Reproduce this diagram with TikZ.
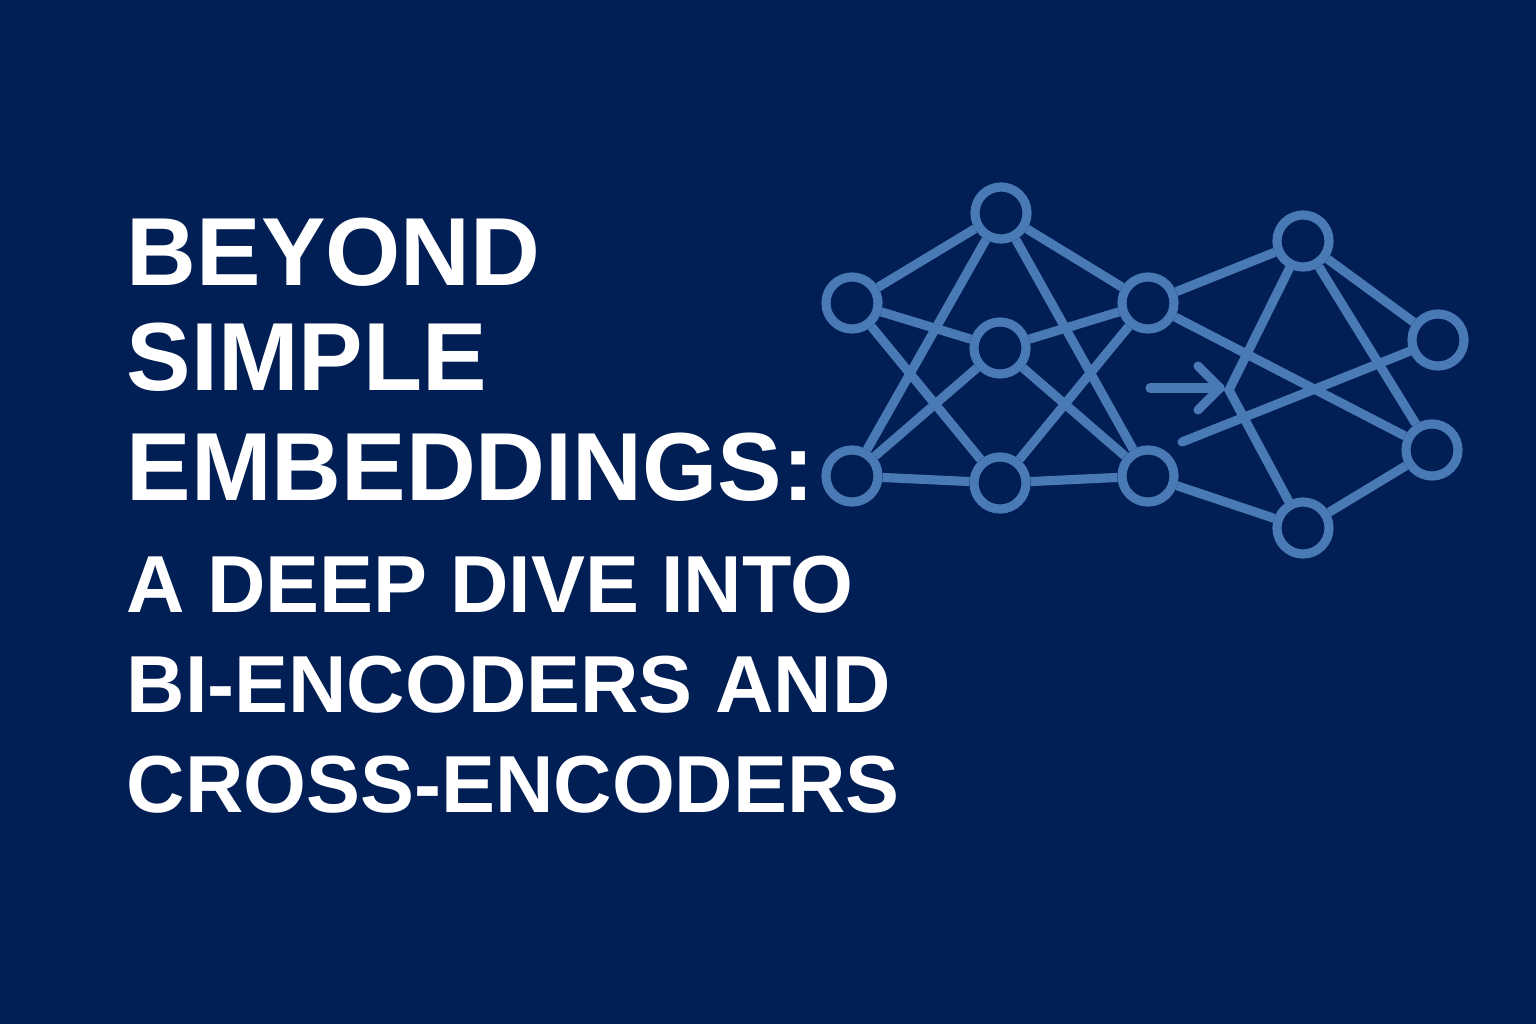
\documentclass[tikz,border=0pt]{standalone}
\usepackage{fontspec}
\setmainfont{Liberation Sans}
\definecolor{navy}{RGB}{1,31,84}
\definecolor{netblue}{RGB}{74,122,181}
\begin{document}
\begin{tikzpicture}[x=0.01cm,y=-0.01cm,
  neuron/.style={circle,draw=netblue,line width=2.6pt,minimum size=0.52cm,inner sep=0pt},
  link/.style={draw=netblue,line width=2.6pt},
  bigline/.style={anchor=base west,text=white,inner sep=0pt,font=\fontsize{27.5}{30}\selectfont\bfseries},
  smallline/.style={anchor=base west,text=white,inner sep=0pt,font=\fontsize{23}{26}\selectfont\bfseries}]

\fill[navy] (0,0) rectangle (1536,1024);
\useasboundingbox (0,0) rectangle (1536,1024);

% title
\node[bigline] (t1) at (126,285) {BEYOND};
\node[bigline] (t2) at (126,390) {SIMPLE};
\node[bigline] (t3) at (126,500) {EMBEDDINGS:};
\node[smallline] (t4) at (126,612) {A DEEP DIVE INTO};
\node[smallline] (t5) at (126,712) {BI-ENCODERS AND};
\node[smallline] (t6) at (126,812) {CROSS-ENCODERS};

% left network
\node[neuron] (top) at (1001,213) {};
\node[neuron] (lup) at (852,303) {};
\node[neuron] (mid) at (1000,348) {};
\node[neuron] (rup) at (1148,303) {};
\node[neuron] (ldn) at (852,476) {};
\node[neuron] (mdn) at (1000,483) {};
\node[neuron] (rdn) at (1148,476) {};

% right network
\node[neuron] (top2) at (1303,241) {};
\node[neuron] (rup2) at (1438,340) {};
\node[neuron] (rdn2) at (1432,450) {};
\node[neuron] (bot2) at (1303,528) {};
\coordinate (bend) at (1229,390);
\coordinate (free) at (1182,442);

\foreach \a/\b in {top/lup,top/rup,top/ldn,top/rdn,lup/mid,mid/rup,lup/mdn,rup/mdn,
  mid/ldn,mid/rdn,ldn/mdn,mdn/rdn,rup/top2,rup/rdn2,rdn/bot2,top2/rup2,top2/rdn2,rdn2/bot2}
  \draw[link] (\a) -- (\b);
\draw[link,line cap=round] (top2) -- (bend) -- (bot2);
\draw[link,line cap=round] (rup2) -- (free);

% arrow
\coordinate (arrA) at (1150,388);
\coordinate (arrB) at (1220,388);
\draw[link,line cap=round,line join=round] (arrA) -- (arrB);
\draw[link,line cap=round,line join=round] (1198,366) -- (arrB) -- (1198,410);
\end{tikzpicture}
\end{document}
